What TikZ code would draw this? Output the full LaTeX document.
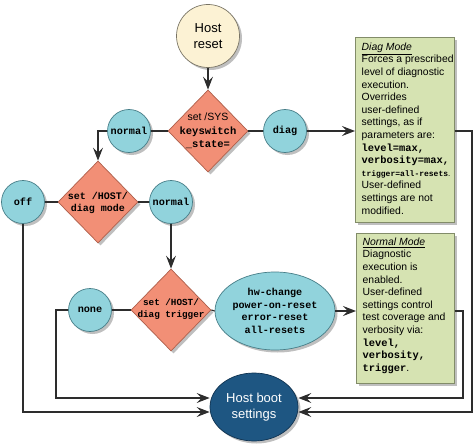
\documentclass[tikz,border=0pt]{standalone}
\usepackage{fontspec}
\setmainfont{Liberation Sans}
\setmonofont{Liberation Mono}
\usetikzlibrary{shapes.geometric,arrows.meta,shadows}
\definecolor{creamf}{RGB}{252,242,212}
\definecolor{creamd}{RGB}{120,115,100}
\definecolor{cyanf}{RGB}{145,211,220}
\definecolor{cyand}{RGB}{70,125,135}
\definecolor{salmf}{RGB}{242,143,118}
\definecolor{salmd}{RGB}{175,95,75}
\definecolor{bluef}{RGB}{30,86,130}
\definecolor{blued}{RGB}{15,50,80}
\definecolor{greenf}{RGB}{214,227,178}
\definecolor{greend}{RGB}{130,140,105}
\definecolor{linec}{RGB}{45,45,45}
\newcommand\cmono[1]{{\ttfamily\bfseries #1}}
\tikzset{
  edge/.style={draw=linec, line width=1.2pt},
  arr/.style={edge, -{Stealth[length=13pt,width=10pt,inset=5pt]}},
  shad/.style={drop shadow={shadow xshift=2.5pt,shadow yshift=-2.5pt,fill=black,opacity=0.25}},
  circ/.style={circle, fill=cyanf, draw=cyand, line width=0.7pt, minimum size=43pt, inner sep=0pt,
    font=\fontsize{10.2}{12}\selectfont\ttfamily\bfseries, shad},
  dia/.style={diamond, fill=salmf, draw=salmd, line width=0.7pt, minimum width=80pt, minimum height=82pt, inner sep=0pt, shad},
  dtext/.style={align=center, inner sep=0pt},
  gbox/.style={rectangle, fill=greenf, draw=greend, line width=0.7pt, inner sep=0pt, shad},
  btext/.style={align=left, inner sep=0pt, font=\fontsize{10.4}{12.6}\selectfont},
}
\begin{document}
\begin{tikzpicture}[x=1pt,y=-1pt]
\useasboundingbox (0,0) rectangle (474,444);
% nodes
\node[circle, fill=creamf, draw=creamd, line width=0.7pt, minimum size=63pt, inner sep=0pt, shad,
  align=center, font=\fontsize{13}{16}\selectfont] (hr) at (208,36) {Host\\reset};
\node[dia] (d1) at (208,131) {};
\node[dtext, font=\fontsize{10.5}{13.3}\selectfont] (d1t) at (208,131) {set /SYS\\\cmono{keyswitch}\\\cmono{\_state=}};
\node[circ] (n1) at (129,131) {normal};
\node[circ] (diag) at (285,131) {diag};
\node[dia] (d2) at (98,202) {};
\node[dtext, font=\fontsize{10}{12.7}\selectfont\ttfamily\bfseries] (d2t) at (98,203) {set /HOST/\\diag mode};
\node[circ] (off) at (23,202) {off};
\node[circ] (n2) at (171,202) {normal};
\node[dia] (d3) at (171,310) {};
\node[dtext, font=\fontsize{9.3}{12.6}\selectfont\ttfamily\bfseries] (d3t) at (171,309) {set /HOST/\\diag trigger};
\node[circ] (none) at (90,310) {none};
\node[ellipse, fill=cyanf, draw=cyand, line width=0.7pt, minimum width=100pt, minimum height=78pt, inner sep=0pt, shad,
  align=center, font=\fontsize{10.1}{12.6}\selectfont\ttfamily\bfseries] (hw) at (275,311)
  {hw-change\\power-on-reset\\error-reset\\all-resets};
\node[ellipse, fill=bluef, draw=blued, line width=0.7pt, minimum width=88pt, minimum height=68pt, inner sep=0pt, shad,
  align=center, text=white, font=\fontsize{13}{16}\selectfont] (hb) at (254,407) {Host boot\\settings};
\node[gbox, minimum width=99pt, minimum height=185pt, anchor=north west] (diagbox) at (355,37) {};
\node[btext, anchor=north west] (diagtxt) at (361.5,42.5) {\underline{\textit{Diag Mode}}\\
Forces a prescribed\\level of diagnostic\\execution.\\Overrides\\user-defined\\settings, as if\\parameters are:\\
\cmono{level=max,}\\\cmono{verbosity=max,}\\{\fontsize{8}{12.6}\selectfont\cmono{trigger=all-resets}.}\\
User-defined\\settings are not\\modified.};
\node[gbox, minimum width=98pt, minimum height=150pt, anchor=north west] (normbox) at (356,233) {};
\node[btext, anchor=north west] (normtxt) at (362.5,237.5) {\underline{\textit{Normal Mode}}\\
Diagnostic\\execution is\\enabled.\\User-defined\\settings control\\test coverage and\\verbosity via:\\
\cmono{level,}\\\cmono{verbosity,}\\\cmono{trigger}.};
% corner coordinates
\coordinate (yb1) at (0,412);
\coordinate (nc) at (56,398);
\coordinate (dc) at (472,412);
\coordinate (nc2) at (463,398);
% connectors
\draw[arr] (hr.south) -- (d1.north);
\draw[edge] (d1.west) -- (n1.east);
\draw[edge] (d1.east) -- (diag.west);
\draw[arr] (diag.east) -- (diag.east -| diagbox.west);
\draw[arr] (n1.west) -| (d2.north);
\draw[edge] (d2.west) -- (off.east);
\draw[edge] (d2.east) -- (n2.west);
\draw[arr] (n2.south) -- (d3.north);
\draw[edge] (d3.west) -- (none.east);
\draw[edge] (d3.east) -- (hw.west);
\draw[arr] (hw.east) -- (hw.east -| normbox.west);
\draw[arr] (off.south) |- (yb1 -| hb.west);
\draw[arr] (none.west) -| (nc) -- (nc -| hb.west);
\draw[arr] (diagbox.east |- diag.east) -| (dc) -- (dc -| hb.east);
\draw[arr] (normbox.east |- hw.east) -| (nc2) -- (nc2 -| hb.east);
\end{tikzpicture}
\end{document}
